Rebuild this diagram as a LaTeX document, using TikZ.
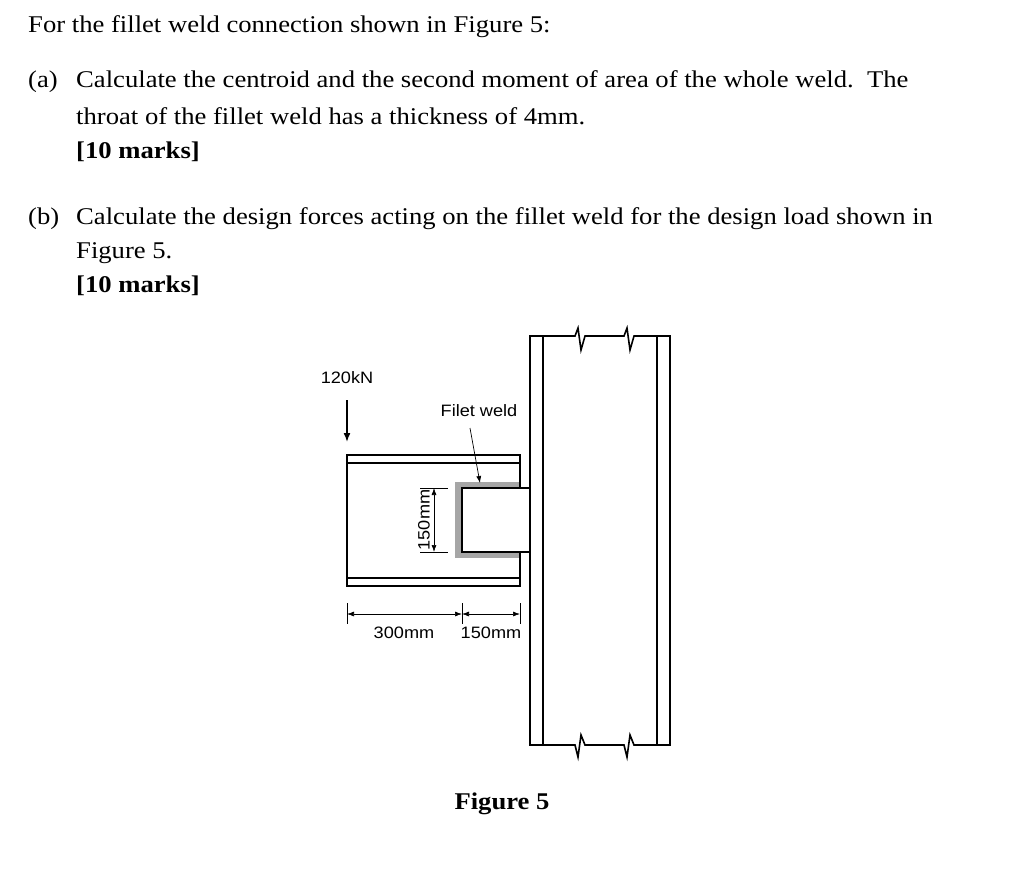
\documentclass[tikz,border=0pt]{standalone}
\usepackage{fontspec}
\usetikzlibrary{arrows.meta}
\setmainfont{Liberation Serif}[FakeStretch=1.11]
\newfontfamily\lsans{Liberation Sans}[FakeStretch=1.1]
\begin{document}
\begin{tikzpicture}[x=1pt,y=-1pt,
  >={Latex[length=7pt,width=5pt]},
  txt/.style={anchor=base west,inner sep=0,font=\fontsize{24}{27}\selectfont},
  lab/.style={inner sep=0,font=\lsans\fontsize{16.5}{18}\selectfont},
  ln/.style={line width=1.6pt},
  dim/.style={line width=0.7pt}]
\useasboundingbox (0,0) rectangle (1024,883);
\node[txt] (t0) at (28,33) {For the fillet weld connection shown in Figure 5:};
\node[txt] (a1) at (28,87) {(a)};
\node[txt] (a2) at (76,87) {Calculate the centroid and the second moment of area of the whole weld.\ \ The};
\node[txt] (a3) at (76,124) {throat of the fillet weld has a thickness of 4mm.};
\node[txt] (a4) at (76,158) {\bfseries [10 marks]};
\node[txt] (b1) at (28,224) {(b)};
\node[txt] (b2) at (76,224) {Calculate the design forces acting on the fillet weld for the design load shown in};
\node[txt] (b3) at (76,258) {Figure 5.};
\node[txt] (b4) at (76,292) {\bfseries [10 marks]};
% weld
\fill[gray!70] (455,482) rectangle (520,558);
% column
\draw[ln] (530,745) -- (530,336) -- (575,336) -- (578,328) -- (581,350) -- (585,336) -- (624,336) -- (627,328) -- (630,350) -- (634,336) -- (670,336) -- (670,745) -- (634,745) -- (630,735) -- (627,757) -- (624,745) -- (585,745) -- (581,735) -- (578,757) -- (575,745) -- cycle;
\draw[ln] (543,336) -- (543,745);
\draw[ln] (657,336) -- (657,745);
% beam
\draw[ln] (347,455) rectangle (520,586);
\draw[ln] (347,463) -- (520,463);
\draw[ln] (347,578) -- (520,578);
\fill[white] (462,488) rectangle (530,552);
\draw[ln] (462,488) rectangle (530,552);
% load
\node[lab] (load) at (347,378) {120kN};
\coordinate (la) at (347,400);
\coordinate (lb) at (347,442);
\draw[ln,-{Latex[length=9pt,width=7pt]}] (la) -- (lb);
\node[lab] (fw) at (479,411) {Filet weld};
\coordinate (wa) at (470,428);
\coordinate (wb) at (480,483);
\draw[dim,->] (wa) -- (wb);
% vertical dim
\draw[dim] (420,488) -- (448,488);
\draw[dim] (420,552) -- (448,552);
\coordinate (va) at (434,488);
\coordinate (vb) at (434,552);
\draw[dim,<->] (va) -- (vb);
\node[lab,rotate=90] (d150v) at (424,520) {150mm};
% horizontal dims
\draw[dim] (347,603) -- (347,624);
\draw[dim] (462,603) -- (462,624);
\draw[dim] (520,603) -- (520,624);
\coordinate (h1) at (347,614);
\coordinate (h2) at (462,614);
\coordinate (h3) at (520,614);
\draw[dim,<->] (h1) -- (h2);
\draw[dim,<->] (h2) -- (h3);
\node[lab] (d300) at (404,633) {300mm};
\node[lab] (d150h) at (491,633) {150mm};
\node[txt,anchor=base] (fig) at (502,809) {\bfseries Figure 5};
\end{tikzpicture}
\end{document}
